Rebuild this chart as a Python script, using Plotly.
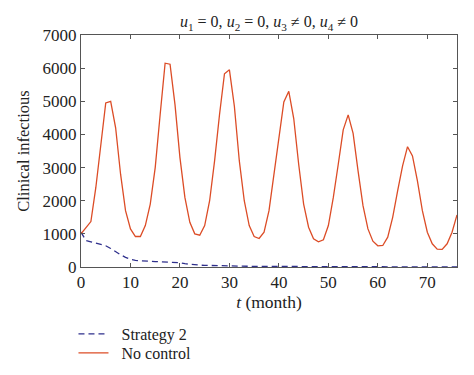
import plotly.graph_objects as go

months = list(range(0, 77))

no_control = [
    1000, 1200, 1370, 2400, 3700, 4950, 5000, 4200, 2800, 1700,
    1150, 920, 920, 1250, 1900, 3000, 4600, 6150, 6120, 4900,
    3300, 2100, 1350, 1000, 960, 1250, 2000, 3200, 4600, 5830,
    5950, 4850, 3200, 2000, 1250, 920, 860, 1050, 1700, 2800,
    4000, 4980, 5300, 4480, 3100, 1900, 1200, 850, 760, 820,
    1250, 2100, 3100, 4140, 4590, 4030, 2900, 1850, 1150, 780,
    640, 650, 900, 1500, 2300, 3050, 3630, 3350, 2600, 1700,
    1050, 700, 540, 530, 700, 1050, 1570,
]

strategy2 = [
    1050, 800, 760, 720, 680, 640, 560, 460, 370, 290,
    230, 200, 185, 175, 170, 165, 160, 155, 150, 145,
    130, 100, 80, 65, 55, 50, 45, 40, 35, 30,
    28, 26, 24, 22, 20, 19, 18, 17, 16, 15,
    14, 13, 12, 12, 11, 11, 10, 10, 9, 9,
    9, 8, 8, 8, 7, 7, 7, 7, 6, 6,
    6, 6, 6, 5, 5, 5, 5, 5, 5, 4,
    4, 4, 4, 4, 4, 4, 4,
]

x_ticks = [0, 10, 20, 30, 40, 50, 60, 70]
y_ticks = [0, 1000, 2000, 3000, 4000, 5000, 6000, 7000]

FONT = "Liberation Serif"
NB = "\u00a0\u00a0"

fig = go.Figure()
fig.add_trace(go.Scatter(
    x=months, y=strategy2, mode="lines", name=NB + "Strategy 2",
    line=dict(color="#2e2f8c", width=1.3, dash="6px,4px"),
    legend="legend",
))
fig.add_trace(go.Scatter(
    x=months, y=no_control, mode="lines", name=NB + "No control",
    line=dict(color="#dc4c26", width=1.3),
    legend="legend2",
))

axis_common = dict(
    showline=True, linecolor="#555555", linewidth=1, mirror="ticks",
    ticks="inside", ticklen=4, tickcolor="#555555", tickwidth=1,
    showgrid=False, zeroline=False, automargin=False,
    tickfont=dict(family=FONT, size=17, color="#222222"),
)

legend_common = dict(
    xanchor="left", yanchor="middle", xref="paper", yref="container",
    font=dict(family=FONT, size=16, color="#222222"),
    bgcolor="rgba(0,0,0,0)", borderwidth=0,
)

fig.update_layout(
    width=474, height=375,
    margin=dict(l=81, r=17, t=35, b=108, autoexpand=False),
    paper_bgcolor="white", plot_bgcolor="white",
    font=dict(family=FONT, size=17, color="#222222"),
    title=dict(
        text="<i>u</i><sub>1</sub> = 0, <i>u</i><sub>2</sub> = 0, <i>u</i><sub>3</sub> ≠ 0, <i>u</i><sub>4</sub> ≠ 0",
        x=0.5, xref="paper", xanchor="center", y=0.942, yanchor="middle",
        font=dict(family=FONT, size=16, color="#222222"),
    ),
    xaxis=dict(range=[0, 76], tickvals=x_ticks,
               title=dict(text="<i>t</i> (month)", standoff=2,
                          font=dict(family=FONT, size=17.5)),
               **axis_common),
    yaxis=dict(range=[0, 7000], tickvals=y_ticks,
               title=dict(text="Clinical infectious", standoff=8,
                          font=dict(family=FONT, size=16.5)),
               **axis_common),
    showlegend=True,
    legend=dict(x=-0.02, y=1 - 334 / 375, **legend_common),
    legend2=dict(x=-0.02, y=1 - 353 / 375, **legend_common),
)

fig.write_html("out.html", config={"displayModeBar": False},
               post_script="document.body.style.margin='0px';")
